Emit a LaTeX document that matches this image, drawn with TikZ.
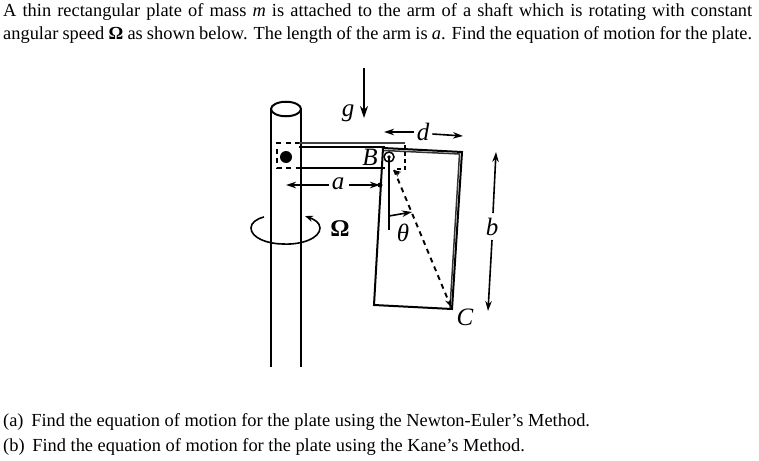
\documentclass[tikz,border=0pt]{standalone}
\usepackage{fontspec}
\setmainfont{Liberation Serif}
\usetikzlibrary{arrows.meta,shapes.geometric}
\tikzset{
  txt/.style={anchor=base west,inner sep=0pt,font=\fontsize{18.4}{22}\selectfont},
  lbl/.style={inner sep=0pt,font=\fontsize{25}{27}\selectfont\itshape},
  ln/.style={line width=2pt,black},
  thin ln/.style={line width=1.6pt,black},
  dash ln/.style={line width=1.9pt,dash pattern=on 5pt off 4.5pt,black},
  arr/.style={line width=1.7pt,-{Stealth[length=12pt,width=8pt]},black},
  arrs/.style={line width=1.6pt,-{Stealth[length=10pt,width=6.5pt]},black}
}
\begin{document}
\begin{tikzpicture}[x=1pt,y=-1pt]
\useasboundingbox (0,0) rectangle (759,460);
% text
\node[txt] (t1) at (3,17) {\makebox[749pt][s]{A thin rectangular plate of mass \textit{m} is attached to the arm of a shaft which is rotating with constant}};
\node[txt] (t2) at (3,40) {\makebox[749pt][s]{angular speed \textbf{Ω} as shown below. The length of the arm is \textit{a}. Find the equation of motion for the plate.}};
\node[txt] (t3) at (3,426) {(a)\, Find the equation of motion for the plate using the Newton-Euler’s Method.};
\node[txt] (t4) at (3,451) {(b)\, Find the equation of motion for the plate using the Kane’s Method.};
% shaft
\coordinate (sl) at (270.5,109); \coordinate (slb) at (270.5,367);
\coordinate (sr) at (301,109); \coordinate (srb) at (301,367);
\draw[ln] (sl) -- (slb);
\draw[thin ln] (sr) -- (srb);
\node[draw,ln,ellipse,minimum width=30pt,minimum height=14.5pt,inner sep=0pt,fill=white] (top) at (286,109) {};
% pivot and dashed box
\node[circle,fill=black,minimum size=12pt,inner sep=0pt] (dot) at (286,157) {};
\coordinate (b1) at (300,143); \coordinate (b2) at (277,143); \coordinate (b3) at (277,168); \coordinate (b4) at (300,168);
\draw[dash ln] (b1) -- (b2) -- (b3) -- (b4);
% arm
\coordinate (a1) at (299,143); \coordinate (a2) at (405,143);
\coordinate (a3) at (299,146.5); \coordinate (a4) at (385,146.5);
\coordinate (a5) at (298,168); \coordinate (a6) at (385,168);
\draw[line width=1.4pt,black!75] (a1) -- (a2);
\draw[ln] (a3) -- (a4);
\draw[ln] (a5) -- (a6);
% plate
\coordinate (p1) at (383,148); \coordinate (p2) at (462,152); \coordinate (p3) at (452,309); \coordinate (p4) at (374,305);
\draw[ln,line join=miter] (p1) -- (p2) -- (p3) -- (p4) -- cycle;
\coordinate (q1) at (384,150.5); \coordinate (q2) at (459.5,154); \coordinate (q3) at (450,308);
\draw[line width=1.5pt,black!80] (q1) -- (q2) -- (q3);
% B pivot
\node[draw,circle,line width=1.5pt,minimum size=10pt,inner sep=0pt] (bp) at (389,157) {};
\fill[black] (bp) circle (1.8pt);
\coordinate (vb) at (389,230);
\draw[thin ln] (bp.center) -- (vb);
\coordinate (e1) at (405,145); \coordinate (e2) at (405,169); \coordinate (e3) at (396,169);
\draw[line width=1.6pt,dash pattern=on 4pt off 3pt,black] (e1) -- (e2) -- (e3);
% dashed line to C
\coordinate (ds) at (394,170); \coordinate (C) at (451,307);
\draw[dash ln,-{Stealth[length=8pt,width=6pt]}] (ds) -- (C);
\draw[-{Stealth[length=7pt,width=6pt]},line width=1.4pt,black] (399,174) -- (ds);
% theta
\coordinate (th1) at (389,216); \coordinate (th2) at (412,212);
\draw[arrs] (th1) -- (th2);
\node[lbl] (theta) at (403,233) {θ};
% labels
\node[lbl] (B) at (370,157) {B};
\node[lbl] (g) at (348,113) {g};
\node[lbl] (a) at (338,184) {a};
\node[lbl] (d) at (423,132) {d};
\node[lbl] (b) at (492,227) {b};
\node[lbl] (CC) at (465,317) {C};
\node[inner sep=0pt,font=\fontsize{24}{26}\selectfont\bfseries] (O) at (340,229) {Ω};
% g arrow
\coordinate (g1) at (364,68); \coordinate (g2) at (364,118);
\draw[arr] (g1) -- (g2);
% a arrows
\coordinate (ae) at (380,185); \coordinate (al) at (286,185);
\draw[arrs] (a.west) ++(-3,1) -- (al);
\draw[arrs] (a.east) ++(5,1) -- (ae);
\fill[black] (ae) circle (2.5pt);
% d arrows
\coordinate (dl) at (384,132); \coordinate (dr) at (463,136);
\draw[arrs] (d.west) ++(-3,0) -- (dl);
\draw[arrs] (d.east) ++(3,2) -- (dr);
% b arrows
\coordinate (bt) at (496,152); \coordinate (bb) at (488,311);
\draw[arrs] (493,213) -- (bt);
\draw[arrs] (492,240) -- (bb);
% rotation
\coordinate (r1) at (264,217); \coordinate (r2) at (251,228); \coordinate (r3) at (283,244); \coordinate (r4) at (320,228); \coordinate (r5) at (305,216);
\draw[line width=1.6pt,black,-{Stealth[length=8pt,width=6pt]}] (r1) .. controls (256,219) and (251,223) .. (r2) .. controls (251,238) and (268,244) .. (r3) .. controls (302,245) and (320,238) .. (r4) .. controls (320,222) and (313,219) .. (r5);
\end{tikzpicture}
\end{document}
